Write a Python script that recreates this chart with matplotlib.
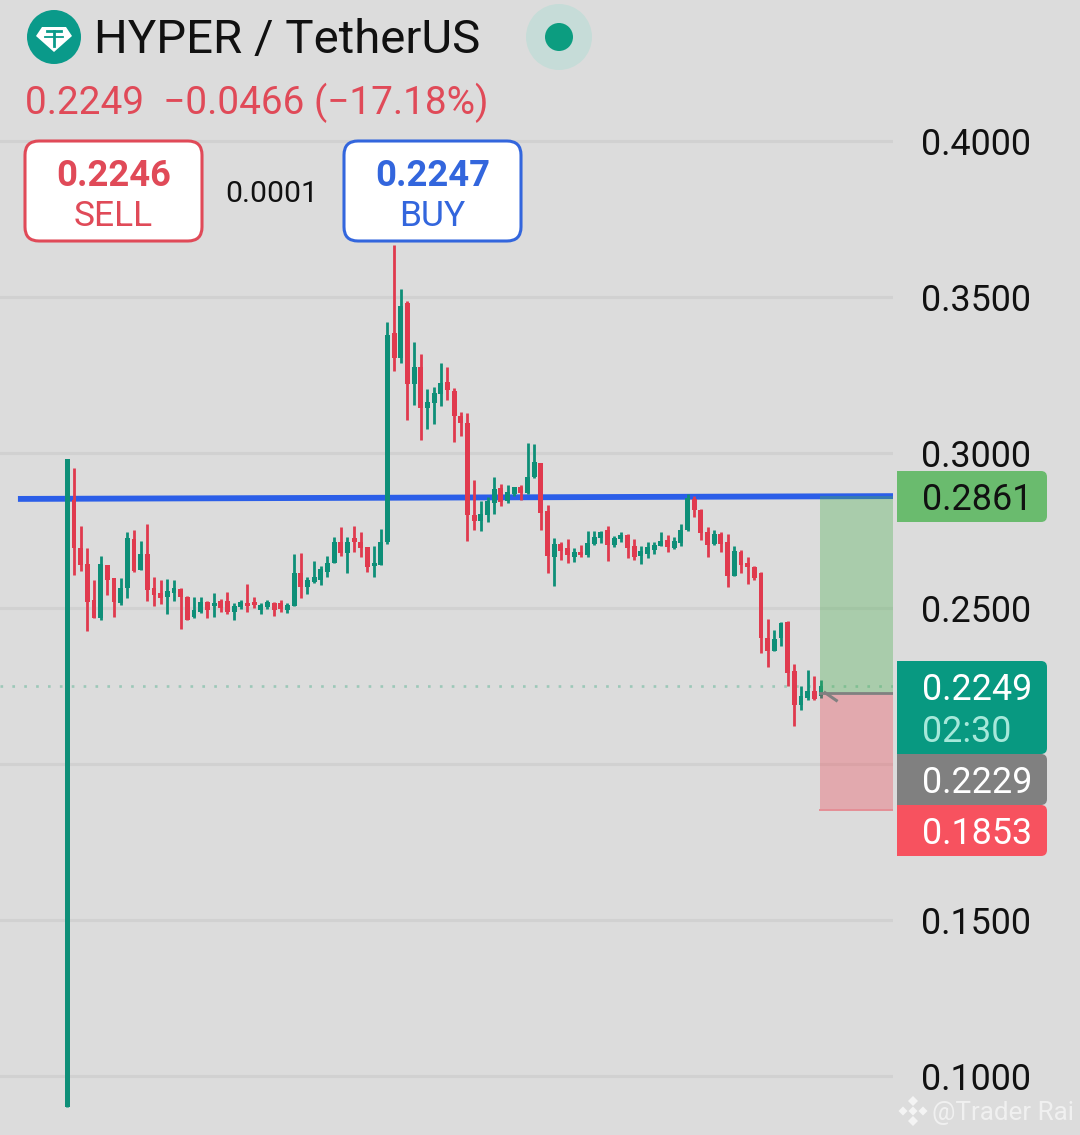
import numpy as np
import matplotlib
matplotlib.use("Agg")
import matplotlib.pyplot as plt
from matplotlib.patches import Circle, FancyBboxPatch, Polygon, Rectangle
from matplotlib.ticker import FixedLocator

plt.rcParams["font.family"] = ["Roboto", "DejaVu Sans"]

opens = [
    0.0899, 0.2847, 0.2692, 0.2642, 0.2526, 0.2468, 0.2639, 0.2596, 0.2516, 0.2564,
    0.2721, 0.2623, 0.2674, 0.2564, 0.2548, 0.2535, 0.2548, 0.2562, 0.2537, 0.2471,
    0.2489, 0.2519, 0.2507, 0.2524, 0.2523, 0.2489, 0.2505, 0.2518, 0.2521, 0.2494,
    0.2505, 0.2516, 0.2516, 0.2494, 0.2508, 0.2612, 0.2569, 0.2585, 0.2591, 0.2617,
    0.2646, 0.2714, 0.2676, 0.2724, 0.2714, 0.2698, 0.2636, 0.2639, 0.2714, 0.3385,
    0.3302, 0.3479, 0.3220, 0.3273, 0.3142, 0.3160, 0.3188, 0.3225, 0.3198, 0.3118,
    0.3096, 0.2799, 0.2781, 0.2799, 0.2837, 0.2885, 0.2845, 0.2867, 0.2888, 0.2869,
    0.2920, 0.2965, 0.2813, 0.2666, 0.2707, 0.2693, 0.2666, 0.2682, 0.2671, 0.2707,
    0.2725, 0.2752, 0.2703, 0.2722, 0.2735, 0.2700, 0.2668, 0.2674, 0.2687, 0.2701,
    0.2719, 0.2695, 0.2709, 0.2752, 0.2850, 0.2816, 0.2746, 0.2705, 0.2739, 0.2714,
    0.2602, 0.2679, 0.2645, 0.2634, 0.2612, 0.2404, 0.2364, 0.2404, 0.2457, 0.2300,
    0.2190, 0.2211, 0.2233, 0.2217,
]
closes = [
    0.2979, 0.2692, 0.2639, 0.2521, 0.2468, 0.2642, 0.2591, 0.2521, 0.2564, 0.2724,
    0.2621, 0.2674, 0.2559, 0.2542, 0.2532, 0.2556, 0.2564, 0.2535, 0.2462, 0.2494,
    0.2521, 0.2494, 0.2518, 0.2500, 0.2489, 0.2507, 0.2521, 0.2508, 0.2510, 0.2510,
    0.2519, 0.2494, 0.2496, 0.2510, 0.2612, 0.2569, 0.2591, 0.2601, 0.2625, 0.2644,
    0.2714, 0.2676, 0.2714, 0.2714, 0.2692, 0.2633, 0.2646, 0.2714, 0.3377, 0.3302,
    0.3470, 0.3220, 0.3273, 0.3144, 0.3163, 0.3192, 0.3224, 0.3200, 0.3118, 0.3094,
    0.2799, 0.2781, 0.2801, 0.2845, 0.2882, 0.2842, 0.2874, 0.2888, 0.2869, 0.2920,
    0.2970, 0.2807, 0.2668, 0.2706, 0.2685, 0.2671, 0.2682, 0.2671, 0.2709, 0.2728,
    0.2746, 0.2703, 0.2725, 0.2735, 0.2693, 0.2664, 0.2685, 0.2698, 0.2703, 0.2717,
    0.2698, 0.2717, 0.2752, 0.2853, 0.2816, 0.2741, 0.2703, 0.2738, 0.2707, 0.2602,
    0.2685, 0.2639, 0.2632, 0.2596, 0.2404, 0.2364, 0.2402, 0.2454, 0.2291, 0.2190,
    0.2217, 0.2233, 0.2209, 0.2249,
]
highs = [
    0.2979, 0.2950, 0.2764, 0.2692, 0.2591, 0.2668, 0.2639, 0.2596, 0.2596, 0.2744,
    0.2751, 0.2716, 0.2770, 0.2601, 0.2591, 0.2594, 0.2591, 0.2564, 0.2539, 0.2537,
    0.2535, 0.2523, 0.2548, 0.2530, 0.2551, 0.2516, 0.2526, 0.2577, 0.2535, 0.2516,
    0.2526, 0.2519, 0.2526, 0.2516, 0.2673, 0.2676, 0.2601, 0.2652, 0.2636, 0.2668,
    0.2730, 0.2760, 0.2730, 0.2764, 0.2744, 0.2698, 0.2700, 0.2756, 0.3420, 0.3666,
    0.3524, 0.3486, 0.3354, 0.3315, 0.3203, 0.3209, 0.3286, 0.3275, 0.3208, 0.3129,
    0.3128, 0.2912, 0.2845, 0.2858, 0.2920, 0.2899, 0.2896, 0.2890, 0.2896, 0.3031,
    0.3026, 0.2965, 0.2833, 0.2724, 0.2712, 0.2723, 0.2693, 0.2703, 0.2748, 0.2749,
    0.2749, 0.2764, 0.2732, 0.2746, 0.2739, 0.2722, 0.2700, 0.2712, 0.2712, 0.2744,
    0.2735, 0.2728, 0.2771, 0.2867, 0.2859, 0.2818, 0.2760, 0.2752, 0.2744, 0.2738,
    0.2700, 0.2687, 0.2666, 0.2636, 0.2616, 0.2466, 0.2431, 0.2455, 0.2459, 0.2320,
    0.2252, 0.2302, 0.2281, 0.2270,
]
lows = [
    0.0899, 0.2607, 0.2621, 0.2428, 0.2468, 0.2462, 0.2542, 0.2473, 0.2512, 0.2534,
    0.2617, 0.2623, 0.2523, 0.2508, 0.2513, 0.2481, 0.2523, 0.2433, 0.2462, 0.2468,
    0.2484, 0.2470, 0.2473, 0.2487, 0.2481, 0.2462, 0.2497, 0.2489, 0.2502, 0.2481,
    0.2497, 0.2476, 0.2487, 0.2486, 0.2508, 0.2534, 0.2546, 0.2582, 0.2575, 0.2599,
    0.2646, 0.2668, 0.2614, 0.2682, 0.2663, 0.2617, 0.2601, 0.2639, 0.2706, 0.3261,
    0.3288, 0.3104, 0.3152, 0.3040, 0.3075, 0.3091, 0.3150, 0.3168, 0.3035, 0.3054,
    0.2716, 0.2751, 0.2748, 0.2778, 0.2802, 0.2828, 0.2839, 0.2860, 0.2847, 0.2867,
    0.2919, 0.2751, 0.2614, 0.2572, 0.2655, 0.2644, 0.2648, 0.2664, 0.2663, 0.2703,
    0.2709, 0.2652, 0.2696, 0.2714, 0.2661, 0.2655, 0.2642, 0.2661, 0.2674, 0.2700,
    0.2680, 0.2689, 0.2700, 0.2748, 0.2794, 0.2719, 0.2664, 0.2703, 0.2682, 0.2567,
    0.2602, 0.2612, 0.2578, 0.2591, 0.2356, 0.2311, 0.2363, 0.2380, 0.2251, 0.2122,
    0.2174, 0.2206, 0.2206, 0.2211,
]

price_ticks = [0.10, 0.15, 0.20, 0.25, 0.30, 0.35, 0.40]
# 0.2000 sits under the price boxes, the app leaves it out
tick_labels = ["0.1000", "0.1500", "", "0.2500", "0.3000", "0.3500", "0.4000"]

trend_start = 0.2851
trend_end = 0.2860
take_profit = 0.2861
last_price = 0.2249
entry_price = 0.2229
stop_loss = 0.1853

BG = "#dcdcdc"
UP = "#0e8f78"
DOWN = "#e03a4e"
BLUE = "#2b5ee8"
TITLE_RED = "#e04a58"

W, H = 1080, 1135
PX_PER_UNIT = 3115.0
STEP = 6.67
X0 = 67.3
CHART_RIGHT = 893

opens = np.array(opens)
closes = np.array(closes)
highs = np.array(highs)
lows = np.array(lows)
idx = np.arange(len(opens))
colors = np.where(closes >= opens, UP, DOWN)

fig = plt.figure(figsize=(W / 100, H / 100), dpi=100, facecolor=BG)

# price chart, on real axes
ax = fig.add_axes([0, 0, CHART_RIGHT / W, 1], facecolor=BG)
ax.set_xlim(-X0 / STEP, (CHART_RIGHT - X0) / STEP)
ax.set_ylim(0.4 - (H - 141) / PX_PER_UNIT, 0.4 + 141 / PX_PER_UNIT)
for s in ax.spines.values():
    s.set_visible(False)
ax.xaxis.set_visible(False)
ax.yaxis.tick_right()
ax.yaxis.set_major_locator(FixedLocator(price_ticks))
ax.set_yticklabels(tick_labels, va="center_baseline")
ax.tick_params(axis="y", length=0, pad=20.5, labelsize=25.8, labelcolor="#111111")
ax.grid(axis="y", color="#d1d1d1", lw=2.2, zorder=0)
ax.set_axisbelow(True)

ax.plot([-7.4, 124], [trend_start, trend_end], color=BLUE, lw=4.2, zorder=2,
        solid_capstyle="butt")

ax.vlines(idx, lows, highs, colors=colors, lw=2.0, zorder=3)
ax.bar(idx, np.abs(closes - opens), bottom=np.minimum(opens, closes), width=0.74,
       color=colors, zorder=3)

ax.axhline(last_price, color="#9cc8b8", lw=1.9, ls=(0, (1, 3.5)), zorder=1)

# long position box
ax.add_patch(Rectangle((112.85, last_price - 0.0020), 11, take_profit - last_price + 0.0020,
                       color="#4caf50", alpha=0.35, lw=0, zorder=4))
ax.add_patch(Rectangle((112.85, stop_loss), 11, entry_price - stop_loss,
                       color="#f23645", alpha=0.30, lw=0, zorder=4))
ax.plot([112.85, 124], [entry_price, entry_price], color="#808080", lw=2, zorder=5)
ax.plot([112.85, 124], [stop_loss, stop_loss], color="#e58e96", lw=1.4, zorder=5)
ax.plot([113.6, 115.3], [entry_price, entry_price - 0.0025], color="#808080", lw=2.2, zorder=5)

# app chrome, in pixel coordinates
ui = fig.add_axes([0, 0, 1, 1], facecolor="none")
ui.set_xlim(0, W)
ui.set_ylim(H, 0)
ui.axis("off")

# tether logo
ui.add_patch(Circle((54, 37), 27, color="#0a9a8a", lw=0))
ui.add_patch(Polygon([(42, 27), (66, 27), (72, 36), (54, 52), (36, 36)], color="white", lw=0))
ui.plot([47, 61], [31, 31], color="#0a9a8a", lw=2.0)
ui.plot([54, 54], [31, 46], color="#0a9a8a", lw=2.0)
ui.plot([45, 63], [37, 37], color="#0a9a8a", lw=1.3)

ui.text(94, 40, "HYPER / TetherUS", fontsize=34.1, color="#111111", va="center", ha="left")

ui.add_patch(Circle((559, 37), 33, color="#c6dcd8", lw=0))
ui.add_patch(Circle((559, 37), 14, color="#0c9d80", lw=0))

ui.text(25, 103, "0.2249  \u22120.0466 (\u221217.18%)", fontsize=27.9, color=TITLE_RED,
        va="center", ha="left")


def order_box(x0, x1, edge, price, label):
    ui.add_patch(FancyBboxPatch((x0 + 14, 141 + 14), x1 - x0 - 28, 100 - 28,
                                boxstyle="round,pad=14,rounding_size=14",
                                fc="white", ec=edge, lw=2.2))
    xc = (x0 + x1) / 2
    ui.text(xc, 175.5, price, fontsize=26.2, fontweight="bold", color=edge, ha="center", va="center")
    ui.text(xc, 216, label, fontsize=25.5, color=edge, ha="center", va="center")


order_box(25, 202, "#e04a58", "0.2246", "SELL")
order_box(344, 521, "#3366dd", "0.2247", "BUY")
ui.text(272, 193.5, "0.0001", fontsize=21.7, color="#111111", ha="center", va="center")


def price_tag(y0, y1, color):
    ui.add_patch(FancyBboxPatch((903, y0 + 6), 138, y1 - y0 - 12,
                                boxstyle="round,pad=6,rounding_size=6", fc=color, ec="none"))
    ui.add_patch(Rectangle((897, y0), 10, y1 - y0, color=color, lw=0))


price_tag(471, 522, "#6abb6e")
price_tag(661, 754, "#089981")
price_tag(754, 805, "#808080")
price_tag(805, 856, "#f7525f")

tag_font = dict(fontsize=25.8, ha="left", va="center")
ui.text(921.5, 499.5, "0.2861", color="#111111", **tag_font)
ui.text(921.5, 690, "0.2249", color="white", **tag_font)
ui.text(921.5, 732, "02:30", color="#a6e8da", **tag_font)
ui.text(921.5, 783, "0.2229", color="white", **tag_font)
ui.text(921.5, 834, "0.1853", color="white", **tag_font)

# watermark
for cx, cy, r in [(913, 1101, 5), (913, 1121, 5), (903, 1111, 4.5), (923, 1111, 4.5), (913, 1111, 4.5)]:
    ui.add_patch(Polygon([(cx - r, cy), (cx, cy - r), (cx + r, cy), (cx, cy + r)],
                         color="#f4f4f4", lw=0))
ui.text(932, 1113, "@Trader Rai", fontsize=18.7, color="#f0f0f0", ha="left", va="center")

fig.savefig("out.png", dpi=100, facecolor=BG)
plt.close(fig)
